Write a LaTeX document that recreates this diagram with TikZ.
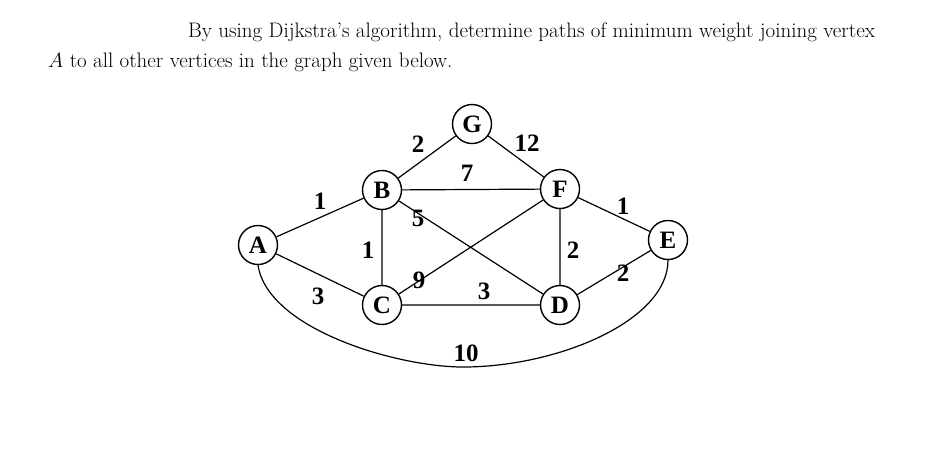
\documentclass[tikz,border=0pt]{standalone}
\usepackage{fontspec}
\newfontfamily\tnr{Liberation Serif}
\begin{document}
\begin{tikzpicture}[x=1pt,y=-1pt,
 vtx/.style={circle,draw,line width=1.4pt,minimum size=39pt,inner sep=0pt,font=\tnr\bfseries\fontsize{25}{26}\selectfont},
 wt/.style={font=\tnr\bfseries\fontsize{25}{26}\selectfont,inner sep=1pt},
 edge/.style={line width=1.2pt}]
\useasboundingbox (0,0) rectangle (937,451);
\node[anchor=base west,font=\fontsize{21}{24}\selectfont,inner sep=0pt] (t1) at (188,37) {By using Dijkstra's algorithm, determine paths of minimum weight joining vertex};
\node[anchor=base west,font=\fontsize{21}{24}\selectfont,inner sep=0pt] (t2) at (48,67) {$A$ to all other vertices in the graph given below.};
\node[vtx] (A) at (258,245) {A};
\node[vtx] (B) at (382,190) {B};
\node[vtx] (G) at (472,124) {G};
\node[vtx] (F) at (560,189) {F};
\node[vtx] (E) at (668,240) {E};
\node[vtx] (C) at (382,305) {C};
\node[vtx] (D) at (560,305) {D};
\draw[edge] (A)--(B) (A)--(C) (B)--(G) (G)--(F) (B)--(F) (B)--(D) (B)--(C) (C)--(F) (C)--(D) (F)--(D) (F)--(E) (D)--(E);
\draw[edge] (A.south) .. controls (268,330) and (400,368) .. (466,367) .. controls (560,366) and (668,320) .. (E.south);
\node[wt] at (418,144) {2};
\node[wt] at (527,143) {12};
\node[wt] at (467,173) {7};
\node[wt] at (320,201) {1};
\node[wt] at (623,206) {1};
\node[wt] at (418,218) {5};
\node[wt] at (368,250) {1};
\node[wt] at (573,250) {2};
\node[wt] at (419,280) {9};
\node[wt] at (484,291) {3};
\node[wt] at (623,273) {2};
\node[wt] at (318,296) {3};
\node[wt] at (466,353) {10};
\end{tikzpicture}
\end{document}
